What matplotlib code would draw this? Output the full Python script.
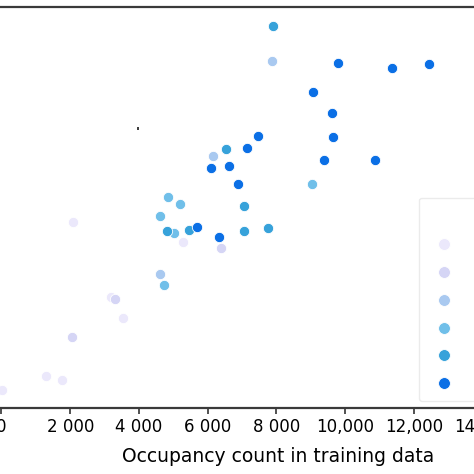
import matplotlib
matplotlib.use('Agg')
import matplotlib.pyplot as plt
import numpy as np

# occupancy count in training data (x) and score (y, normalised, axis cut off)
occupancy = [7900, 7880, 9800, 11370, 12440, 9070, 9620, 9650, 7450, 7150,
             6530, 6160, 6100, 6620, 9390, 10860, 6890, 9040, 4850, 5200,
             4610, 7060, 4820, 5020, 5460, 5690, 6330, 7060, 7760, 5270,
             6390, 2080, 4610, 4730, 3300, 3190, 3540, 2050, 1300, 1760, 20]
score = [0.953, 0.865, 0.860, 0.848, 0.858, 0.788, 0.736, 0.676, 0.678, 0.648,
         0.646, 0.628, 0.599, 0.603, 0.618, 0.618, 0.559, 0.559, 0.526, 0.509,
         0.479, 0.504, 0.441, 0.436, 0.444, 0.451, 0.426, 0.441, 0.449, 0.414,
         0.399, 0.464, 0.334, 0.307, 0.272, 0.277, 0.224, 0.177, 0.080, 0.070,
         0.045]
group = [5, 3, 6, 6, 6, 6, 6, 6, 6, 6,
         5, 3, 6, 6, 6, 6, 6, 4, 4, 4,
         4, 5, 5, 4, 5, 6, 6, 5, 5, 1,
         2, 1, 3, 4, 2, 1, 1, 2, 1, 1,
         1]

group_labels = ['Group 1', 'Group 2', 'Group 3', 'Group 4', 'Group 5', 'Group 6']
group_colors = ['#ebe8fb', '#d5d5f5', '#a9c9f0', '#70bfe9', '#37a2da', '#0b6fe5']
xtick_values = [0, 2000, 4000, 6000, 8000, 10000, 12000, 14000, 16000]
xtick_labels = ['0', '2 000', '4 000', '6 000', '8 000', '10,000', '12,000',
                '14,000', '16,000']

plt.rcParams['font.family'] = ['DejaVu Sans']

fig = plt.figure(figsize=(4.74, 4.74), dpi=100)
ax = fig.add_axes([-0.0331, 0.1392, 1.2399, 0.846])

occupancy = np.array(occupancy)
score = np.array(score)
group = np.array(group)
for k, (lab, col) in enumerate(zip(group_labels, group_colors), start=1):
    mask = group == k
    ax.scatter(occupancy[mask], score[mask], s=55, color=col,
               edgecolors='white', linewidths=0.6, label=lab, zorder=3)

# stray mark in the original figure
ax.text(3950, 0.688, "'", fontsize=9, fontweight='bold', color='black',
        ha='center', va='center')

ax.set_xlim(-500, 16600)
ax.set_ylim(0, 1)
ax.set_xticks(xtick_values)
ax.set_xticklabels(xtick_labels)
ax.tick_params(axis='x', labelsize=12, length=4, width=1.2, color='#333333',
               pad=3)
ax.set_yticks([])
ax.set_xlabel('Occupancy count in training data', fontsize=13.5, labelpad=8)
for side in ['top', 'bottom']:
    ax.spines[side].set_color('#3a3a3a')
    ax.spines[side].set_linewidth(1.6)
ax.spines['left'].set_visible(False)
ax.spines['right'].set_visible(False)

leg = ax.legend(loc='lower right', title='Test', fontsize=10,
                labelspacing=1.0, handletextpad=2.9, borderpad=0.8,
                frameon=True, edgecolor='#e6e6e6', markerscale=1.15,
                borderaxespad=0.5)
leg.get_frame().set_linewidth(1.0)

fig.savefig('out.png', dpi=100)
